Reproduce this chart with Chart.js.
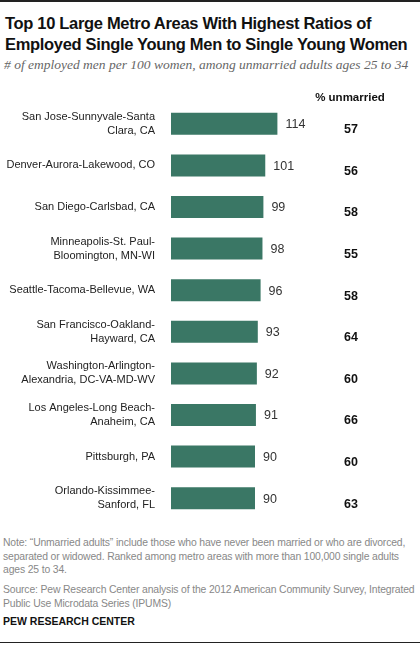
<!DOCTYPE html>
<html>
<head>
<meta charset="utf-8">
<script src="https://cdn.jsdelivr.net/npm/chart.js@4"></script>
<style>
    body { margin: 0; background: #fff; }
    #pagina {
        position: relative; width: 420px; height: 645px; overflow: hidden;
        font-family: "Liberation Sans", Arial, sans-serif;
    }
    .linha-topo { position: absolute; left: 0; right: 0; top: 0; border-top: 2px solid #222; }
    .linha-base { position: absolute; left: 0; right: 0; top: 642px; border-top: 1px solid #222; }
    h1 {
        position: absolute; left: 5px; top: 13px; margin: 0; white-space: nowrap;
        font-size: 16.5px; line-height: 21px; font-weight: bold; color: #111; letter-spacing: -0.32px;
    }
    .subtitulo {
        position: absolute; left: 4px; top: 57px;
        font-family: "Liberation Serif", Georgia, serif; font-style: italic;
        font-size: 13.5px; color: #666; white-space: nowrap;
    }
    #grafico { position: absolute; left: 0; top: 90px; width: 420px; height: 435px; }
    .nota {
        position: absolute; left: 3px; white-space: nowrap;
        font-size: 10.4px; line-height: 13.5px; color: #888; letter-spacing: -0.15px;
    }
    .assinatura { position: absolute; left: 3px; top: 615px; font-size: 10.5px; font-weight: bold; color: #111; }
</style>
</head>
<body>
<div id="pagina">
    <div class="linha-topo"></div>
    <h1>Top 10 Large Metro Areas With Highest Ratios of<br>Employed Single Young Men to Single Young Women</h1>
    <div class="subtitulo"># of employed men per 100 women, among unmarried adults ages 25 to 34</div>
    <canvas id="grafico" width="420" height="435"></canvas>
    <div class="nota" style="top:536px;">Note: “Unmarried adults” include those who have never been married or who are divorced,<br>separated or widowed. Ranked among metro areas with more than 100,000 single adults<br>ages 25 to 34.</div>
    <div class="nota" style="top:583px;">Source: Pew Research Center analysis of the 2012 American Community Survey, Integrated<br>Public Use Microdata Series (IPUMS)</div>
    <div class="assinatura">PEW RESEARCH CENTER</div>
    <div class="linha-base"></div>
</div>
<script>
const areas = [
    ['San Jose-Sunnyvale-Santa', 'Clara, CA'],
    'Denver-Aurora-Lakewood, CO',
    'San Diego-Carlsbad, CA',
    ['Minneapolis-St. Paul-', 'Bloomington, MN-WI'],
    'Seattle-Tacoma-Bellevue, WA',
    ['San Francisco-Oakland-', 'Hayward, CA'],
    ['Washington-Arlington-', 'Alexandria, DC-VA-MD-WV'],
    ['Los Angeles-Long Beach-', 'Anaheim, CA'],
    'Pittsburgh, PA',
    ['Orlando-Kissimmee-', 'Sanford, FL']
];
const homensPor100 = [114, 101, 99, 98, 96, 93, 92, 91, 90, 90];
const pctSolteiros = [57, 56, 58, 55, 58, 64, 60, 66, 60, 63];
const tituloColuna = '% unmarried';

const COR_BARRA = '#3a7765';
const FONTE = '"Liberation Sans", Arial, sans-serif';

const rotulosPlugin = {
    id: 'rotulos',
    afterDatasetsDraw(chart) {
        const { ctx } = chart;
        const meta = chart.getDatasetMeta(0);
        ctx.save();
        ctx.textBaseline = 'middle';
        meta.data.forEach((bar, i) => {
            ctx.font = '12.5px ' + FONTE;
            ctx.fillStyle = '#333';
            ctx.textAlign = 'left';
            ctx.fillText(String(homensPor100[i]), bar.x + 8, bar.y + 1);
            ctx.font = 'bold 12.5px ' + FONTE;
            ctx.fillStyle = '#111';
            ctx.textAlign = 'center';
            ctx.fillText(String(pctSolteiros[i]), 351, bar.y + 6);
        });
        ctx.font = 'bold 11.5px ' + FONTE;
        ctx.fillStyle = '#111';
        ctx.textAlign = 'center';
        ctx.fillText(tituloColuna, 350, 8);
        ctx.restore();
    }
};

new Chart(document.getElementById('grafico'), {
    type: 'bar',
    data: {
        labels: areas,
        datasets: [{
            data: homensPor100,
            backgroundColor: COR_BARRA,
            barPercentage: 0.53,
            categoryPercentage: 1
        }]
    },
    options: {
        indexAxis: 'y',
        responsive: false,
        animation: false,
        layout: { padding: { top: 13, bottom: 6, right: 137, left: 0 } },
        plugins: { legend: { display: false }, tooltip: { enabled: false } },
        scales: {
            x: { display: false, min: 0, max: 120 },
            y: {
                border: { display: false },
                grid: { display: false },
                afterFit(scale) {
                    scale.width = 171;
                    scale.paddingTop = 0;
                    scale.paddingBottom = 0;
                },
                ticks: {
                    padding: 8,
                    color: '#222',
                    font: { size: 11, family: FONTE, lineHeight: 1.27 }
                }
            }
        }
    },
    plugins: [rotulosPlugin]
});
</script>
</body>
</html>
